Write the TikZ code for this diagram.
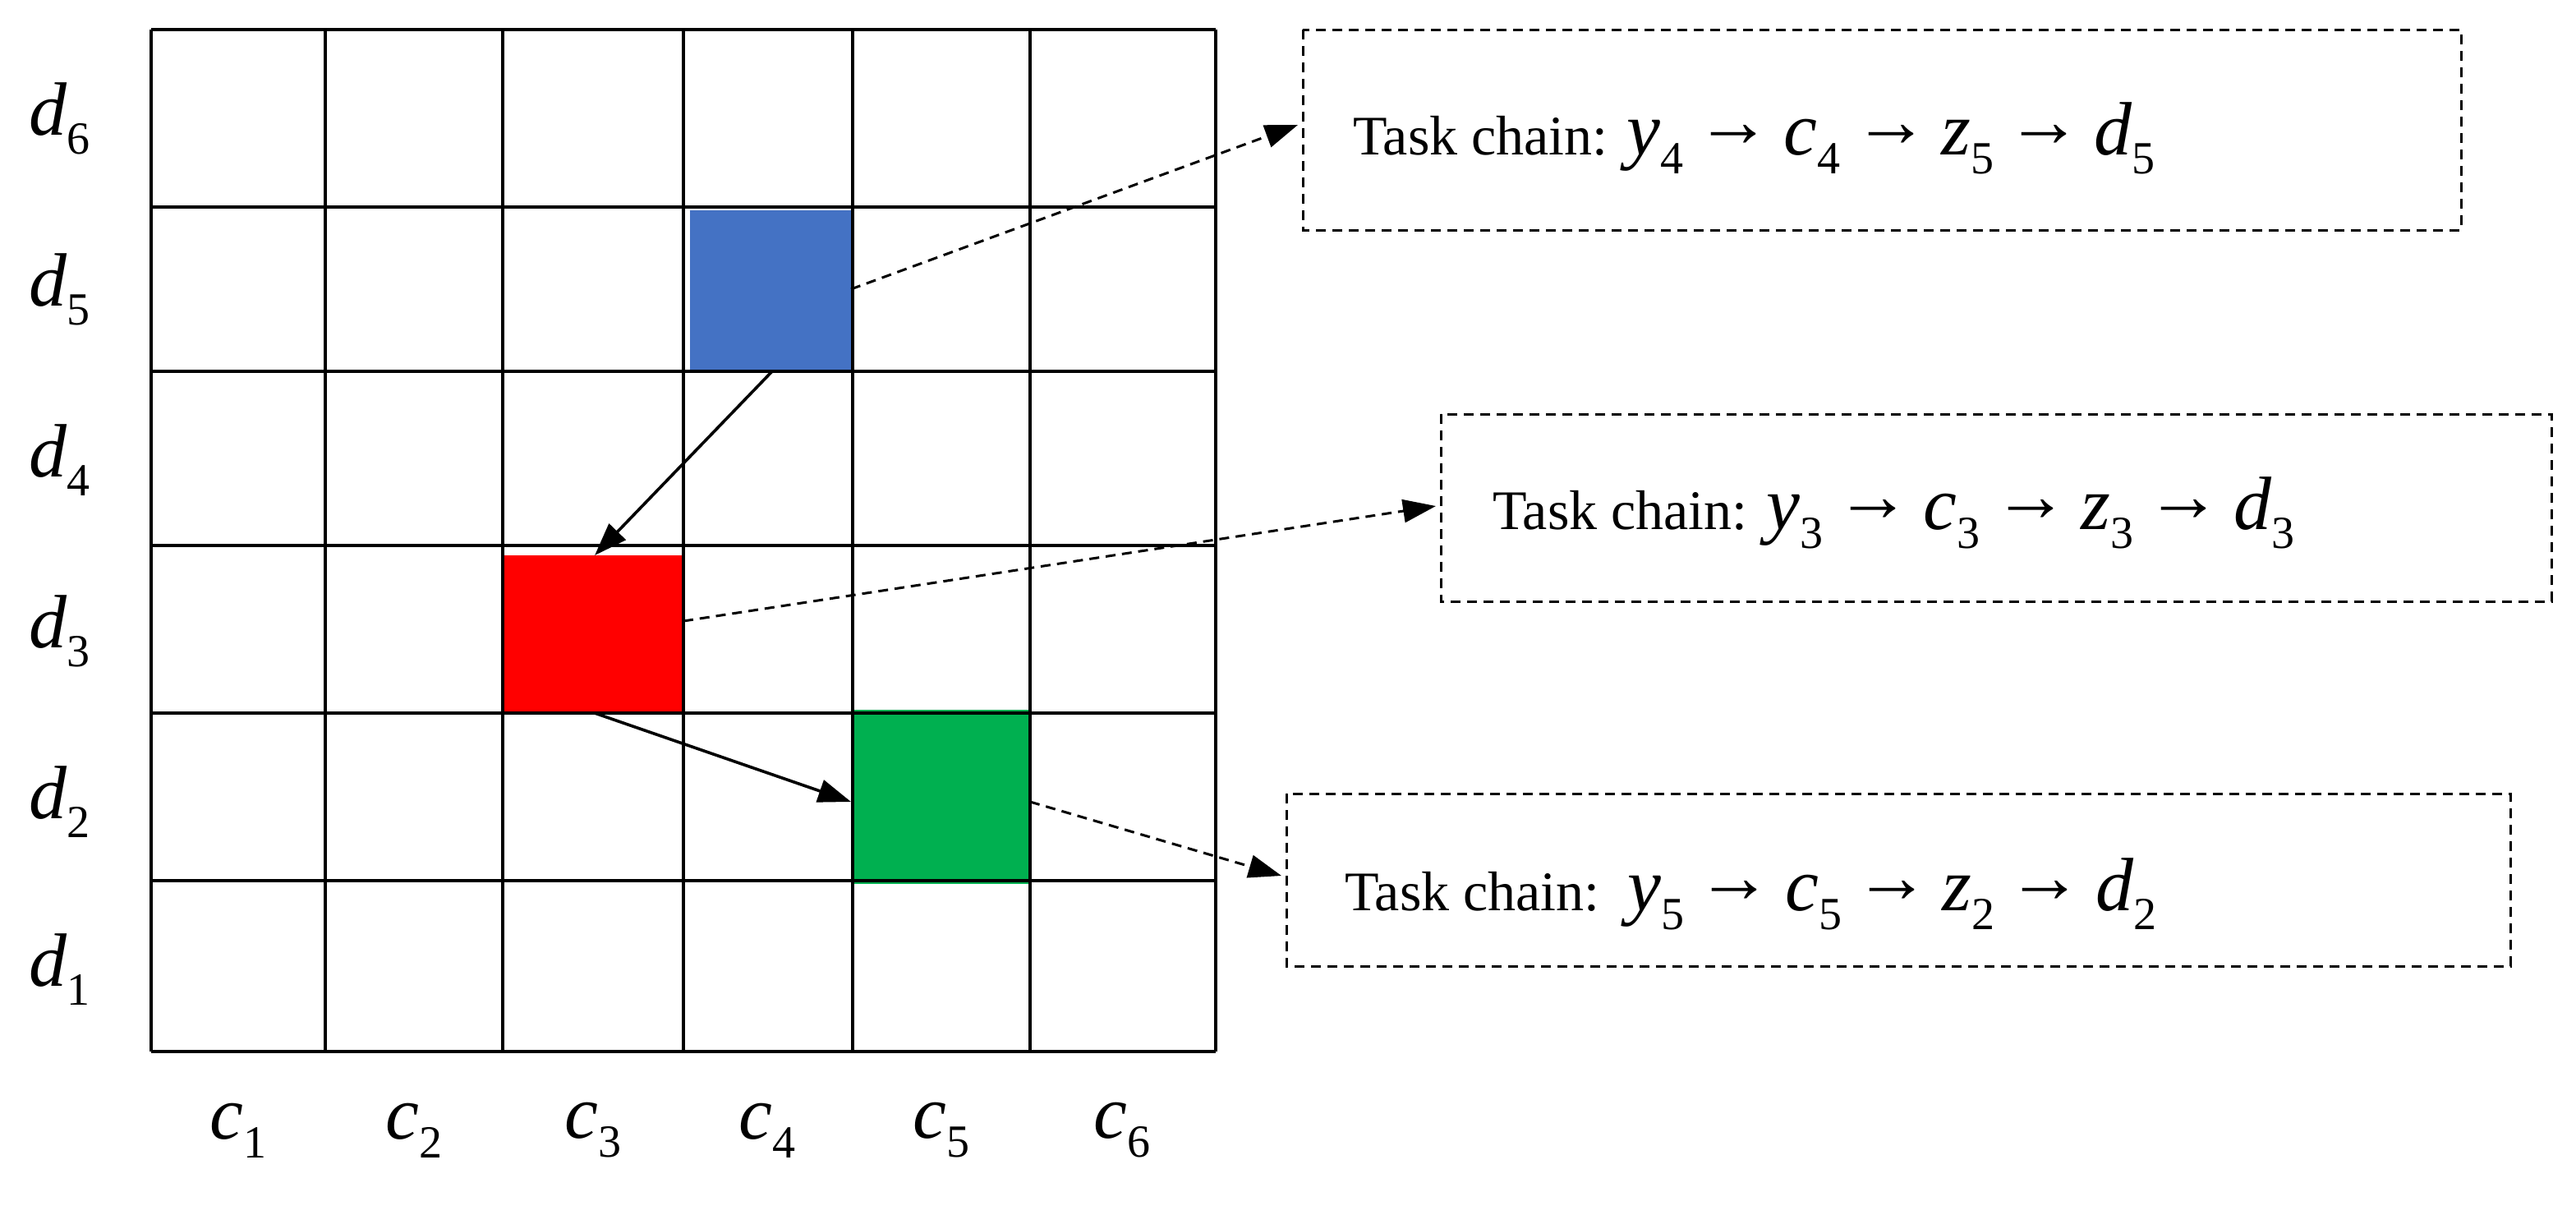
\documentclass[tikz,border=0pt]{standalone}
\usepackage{fontspec}
\setmainfont{Liberation Serif}
\usetikzlibrary{arrows.meta}
\newcommand{\vv}[2]{{\itshape #1}\raisebox{-0.25em}{\fontsize{28}{30}\selectfont #2}}
\newcommand{\ar}{\,\raisebox{0.1em}{→}\,}
\begin{document}
\begin{tikzpicture}[x=1pt,y=-1pt,
  grid/.style={line width=2pt},
  tbox/.style={draw,dash pattern=on 6pt off 4pt,line width=1.5pt},
  dar/.style={dash pattern=on 6pt off 4pt,line width=1.5pt,-{Triangle[length=20pt,width=14pt]}},
  sar/.style={line width=1.8pt,-{Triangle[length=20pt,width=14pt]}},
  lab/.style={font=\fontsize{46}{50}\selectfont},
  ttxt/.style={font=\fontsize{34}{40}\selectfont,anchor=west},
  mtxt/.style={font=\fontsize{46}{50}\selectfont}]
\useasboundingbox (0,0) rectangle (1568,739);
\fill[fill={rgb,255:red,68;green,114;blue,196}] (420,128) rectangle (518,226);
\fill[red] (307,338) rectangle (415,434);
\fill[fill={rgb,255:red,0;green,176;blue,80}] (518,432) rectangle (627,538);
\foreach \x in {92,198,306,416,519,627,740} \draw[grid] (\x,18) -- (\x,640);
\foreach \y in {18,126,226,332,434,536,640} \draw[grid] (92,\y) -- (740,\y);
\foreach \i/\y in {6/72,5/176,4/280,3/384,2/488,1/590} \node[lab] (d\i) at (36,\y) {\vv{d}{\i}};
\foreach \i/\x in {1/145,2/252,3/361,4/467,5/573,6/683} \node[lab] (c\i) at (\x,688) {\vv{c}{\i}};
\coordinate (bl) at (518,176);
\coordinate (bb) at (470,226);
\coordinate (rt) at (362,338);
\coordinate (rr) at (416,378);
\coordinate (rb) at (362,434);
\coordinate (gl) at (518,488);
\coordinate (gr) at (627,488);
\draw[tbox] (793,18) rectangle (1498,140);
\node[ttxt] (t1) at (820,84) {Task chain: {\fontsize{46}{50}\selectfont\vv{y}{4}\ar\vv{c}{4}\ar\vv{z}{5}\ar\vv{d}{5}}};
\coordinate (a1) at (790,76);
\draw[tbox] (877,252) rectangle (1553,366);
\node[ttxt] (t2) at (905,312) {Task chain: {\fontsize{46}{50}\selectfont\vv{y}{3}\ar\vv{c}{3}\ar\vv{z}{3}\ar\vv{d}{3}}};
\coordinate (a2) at (874,308);
\draw[tbox] (783,483) rectangle (1528,588);
\node[ttxt] (t3) at (815,544) {Task chain:\ \ {\fontsize{46}{50}\selectfont\vv{y}{5}\ar\vv{c}{5}\ar\vv{z}{2}\ar\vv{d}{2}}};
\coordinate (a3) at (780,533);
\draw[dar] (bl) -- (a1);
\draw[dar] (rr) -- (a2);
\draw[dar] (gr) -- (a3);
\draw[sar] (bb) -- (rt);
\draw[sar] (rb) -- (gl);
\end{tikzpicture}
\end{document}
